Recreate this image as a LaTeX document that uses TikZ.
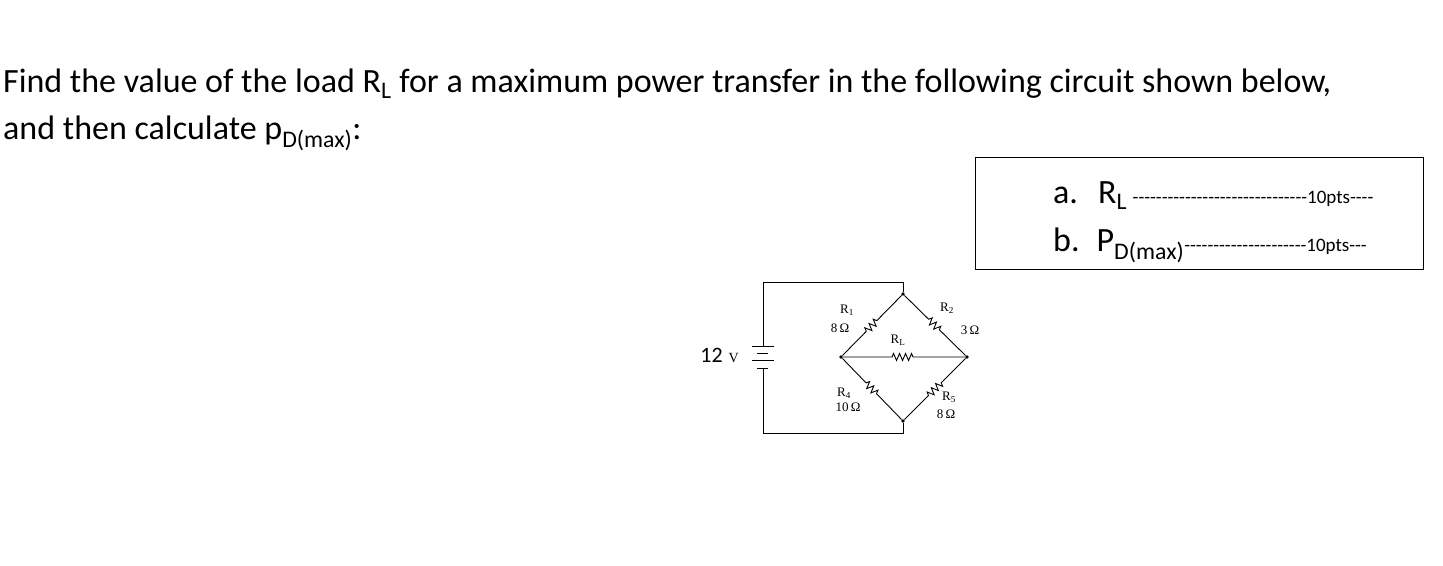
\documentclass[tikz,border=0pt]{standalone}
\usepackage{fontspec}
\setmainfont{Carlito}
\newfontfamily\plainc{Carlito}
\newfontfamily\serifc{Liberation Serif}
\usetikzlibrary{decorations.pathmorphing}
\begin{document}
\begin{tikzpicture}[x=1pt,y=-1pt,
  wire/.style={line width=1pt},
  res/.style={line width=0.9pt,decorate,decoration={zigzag,amplitude=3.5pt,segment length=6pt,pre length=#1,post length=#1}},
  res/.default=34pt,
  lbl/.style={font=\serifc\fontsize{13}{13}\selectfont,inner sep=0pt},
  dot/.style={circle,fill,inner sep=1.3pt}]
\useasboundingbox (0,0) rectangle (1443,565);
\node[anchor=base west,inner sep=0pt,font=\fontsize{34}{34}\selectfont] (t1) at (3,92) {Find the value of the load R\textsubscript{L} for a maximum power transfer in the following circuit shown below,};
\node[anchor=base west,inner sep=0pt,font=\fontsize{34}{34}\selectfont] (t2) at (3,139) {and then calculate p\textsubscript{D(max)}:};
\node[draw,line width=1.3pt,minimum width=448pt,minimum height=112pt,anchor=north west] (box) at (975,157) {};
\node[anchor=base west,inner sep=0pt,font=\fontsize{34}{34}\selectfont] (a) at (1053,203) {a.\hspace{20pt}R\textsubscript{L}\,{\plainc\fontsize{19}{19}\selectfont ------------------------------10pts----}};
\node[anchor=base west,inner sep=0pt,font=\fontsize{34}{34}\selectfont] (b) at (1053,251) {b.\hspace{17pt}P\textsubscript{D(max)}{\plainc\fontsize{19}{19}\selectfont ---------------------10pts---}};
% circuit
\node[dot] (T) at (903,294) {};
\node[dot] (L) at (841,357) {};
\node[dot] (R) at (967,357) {};
\node[dot] (B) at (903,421) {};
\coordinate (tl) at (763,282);
\coordinate (tr) at (903,282);
\coordinate (bl) at (763,433);
\coordinate (br) at (903,433);
\coordinate (bt) at (763,346);
\coordinate (bb) at (763,368);
\draw[wire] (T) -- (tr) -- (tl) -- (bt);
\draw[wire] (B) -- (br) -- (bl) -- (bb);
\draw[wire] (752,346) -- (774,346) (757,353) -- (768,353) (752,360) -- (774,360) (757,368) -- (768,368);
\draw[res] (L) -- (T);
\draw[res] (T) -- (R);
\draw[res] (L) -- (B);
\draw[res] (B) -- (R);
\draw[res=49pt] (L) -- (R);
\node[anchor=base east,inner sep=0pt] (n12) at (739,362) {{\fontsize{22}{22}\selectfont 12}\hspace{6pt}{\serifc\fontsize{14}{14}\selectfont V}};
\node[lbl] (r1) at (847,310) {R\textsubscript{1}};
\node[lbl] (r1v) at (840,328) {8\,Ω};
\node[lbl] (r2) at (947,308) {R\textsubscript{2}};
\node[lbl] (r2v) at (970,330) {3\,Ω};
\node[lbl] (rl) at (898,340) {R\textsubscript{L}};
\node[lbl] (r4) at (844,393) {R\textsubscript{4}};
\node[lbl] (r4v) at (848,407) {10\,Ω};
\node[lbl] (r5) at (949,397) {R\textsubscript{5}};
\node[lbl] (r5v) at (946,414) {8\,Ω};
\end{tikzpicture}
\end{document}
